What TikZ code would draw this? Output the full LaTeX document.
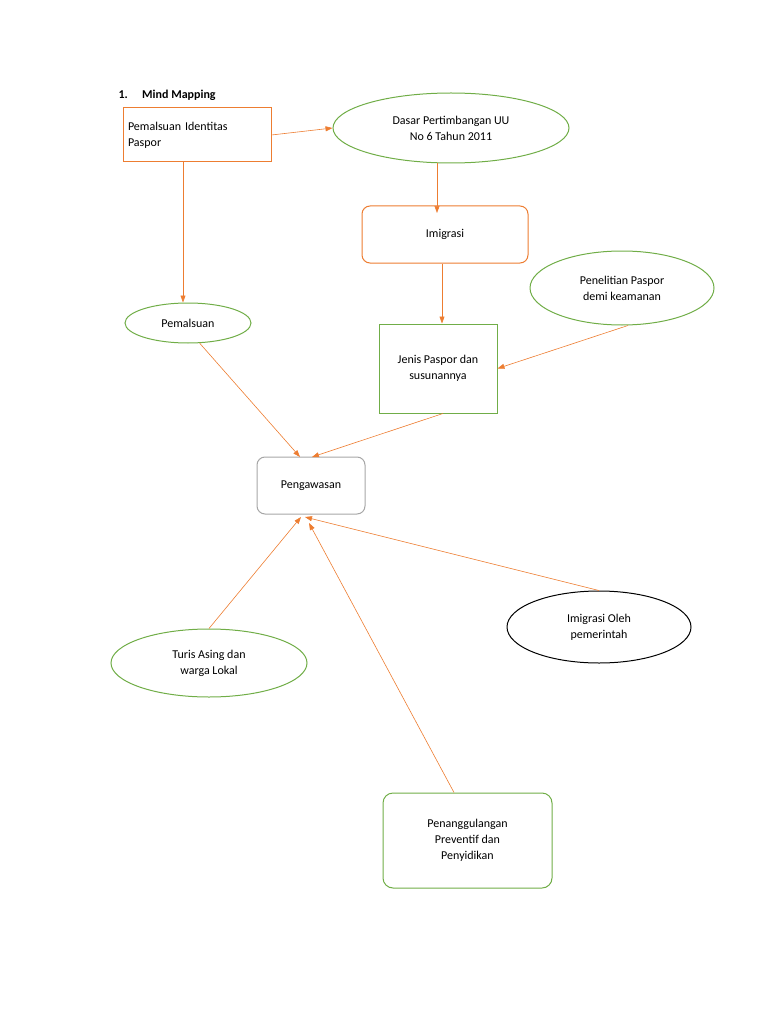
\documentclass[tikz,border=0pt]{standalone}
\usepackage{fontspec}
\setmainfont{Carlito}
\usetikzlibrary{shapes.geometric,arrows.meta}
\definecolor{og}{HTML}{ED7D31}
\definecolor{gn}{HTML}{70AD47}
\begin{document}
\begin{tikzpicture}[x=1pt,y=-1pt,
  font=\fontsize{12}{16}\selectfont,
  og/.style={draw=og,line width=1pt},
  gr/.style={draw=gn,line width=1pt},
  el/.style={ellipse,inner sep=0pt,align=center},
  ar/.style={draw=og,line width=0.6pt,-{Triangle[length=7pt,width=5pt]}}]
\useasboundingbox (0,0) rectangle (768,1024);
\node[anchor=west,font=\fontsize{12}{16}\selectfont\bfseries] (t) at (115,95) {1.\hspace{1.2em}Mind Mapping};
\node[og,rectangle,minimum width=148pt,minimum height=54pt,text width=138pt,align=left] (a) at (197,135) {Pemalsuan Identitas\\Paspor};
\node[gr,el,minimum width=236pt,minimum height=70pt] (b) at (451,128) {Dasar Pertimbangan UU\\No 6 Tahun 2011};
\node[og,rounded corners=8pt,minimum width=166pt,minimum height=57pt] (c) at (445,234.5) {Imigrasi};
\node[gr,el,minimum width=184pt,minimum height=74pt] (d) at (622,288) {Penelitian Paspor\\demi keamanan};
\node[gr,el,minimum width=126pt,minimum height=40pt] (e) at (188,323) {Pemalsuan};
\node[gr,rectangle,minimum width=118pt,minimum height=89pt,align=center] (f) at (438,368.5) {Jenis Paspor dan\\susunannya};
\node[draw=gray!70,line width=1pt,rounded corners=8pt,minimum width=108pt,minimum height=57pt] (g) at (311,485.5) {Pengawasan};
\node[draw=black,line width=1pt,el,minimum width=184pt,minimum height=72pt] (h) at (599,627) {Imigrasi Oleh\\pemerintah};
\node[gr,el,minimum width=196pt,minimum height=68pt] (i) at (209,663) {Turis Asing dan\\warga Lokal};
\node[gr,rounded corners=10pt,minimum width=169pt,minimum height=95pt,align=center] (j) at (467.5,840.5) {Penanggulangan\\Preventif dan\\Penyidikan};
\coordinate (c1) at (437,213);
\coordinate (g1) at (300,457);
\coordinate (g2) at (312,457);
\coordinate (g3) at (301,517);
\coordinate (g4) at (309,523);
\coordinate (g5) at (305,517);
\draw[ar] (a.east) -- (b.west);
\draw[ar] ([xshift=-14pt]a.south) -- (e.north-|183,0);
\draw[ar] (b.south-|437,0) -- (c1);
\draw[ar] (c.south-|442,0) -- (f.north-|442,0);
\draw[ar] (d.south-|628,0) -- (f.east);
\draw[ar] (e.-60) -- (g1);
\draw[ar] (f.south-|443,0) -- (g2);
\draw[ar] (i.north) -- (g3);
\draw[ar] (j.north-|454,0) -- (g4);
\draw[ar] (h.north) -- (g5);
\end{tikzpicture}
\end{document}
